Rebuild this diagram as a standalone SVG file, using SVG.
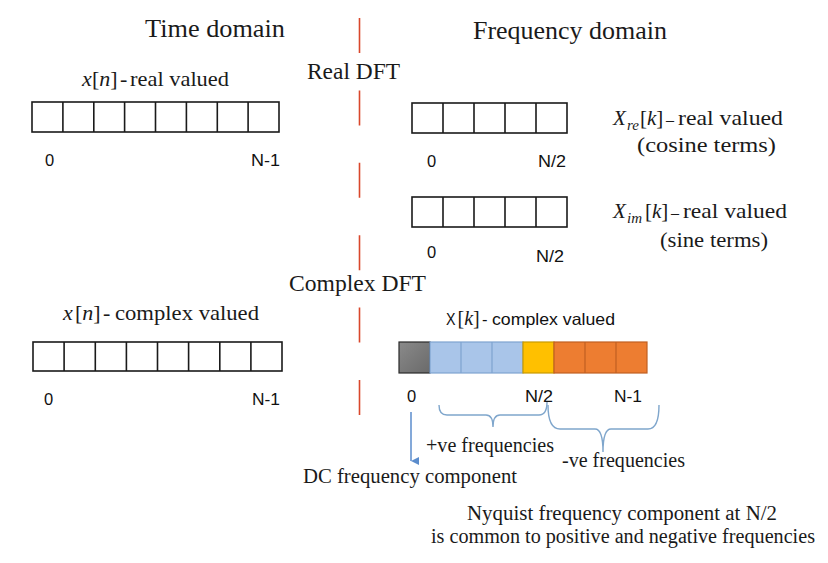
<svg xmlns="http://www.w3.org/2000/svg" width="828" height="563" viewBox="0 0 828 563">
<defs>
<style>
.ser{font-family:"Liberation Serif","Times New Roman",serif;fill:#1a1a1a}
.it{font-style:italic}
.san{font-family:"Liberation Sans",Arial,sans-serif;fill:#111;font-size:16.5px}
.box{fill:#fff;stroke:#1a1a1a;stroke-width:1.6}
.div{stroke:#1a1a1a;stroke-width:1.6;fill:none}
.brace{fill:none;stroke:#7fa6cc;stroke-width:1.4}
</style>
<linearGradient id="gray" x1="0" y1="0" x2="1" y2="1">
<stop offset="0" stop-color="#8a8a8a"/>
<stop offset="1" stop-color="#6a6a6a"/>
</linearGradient>
<marker id="ah" markerWidth="10" markerHeight="10" refX="5" refY="8" orient="auto" markerUnits="userSpaceOnUse" viewBox="0 0 10 10">
<path d="M1,0 L5,8 L9,0 Z" fill="#5b8ccc"/>
</marker>
</defs>
<rect width="828" height="563" fill="#fff"/>

<g id="headers">
<text class="ser" x="145" y="37" font-size="26" textLength="140" lengthAdjust="spacingAndGlyphs">Time domain</text>
<text class="ser" x="473" y="39" font-size="26" textLength="194" lengthAdjust="spacingAndGlyphs">Frequency domain</text>
<text class="ser" x="307" y="79" font-size="23" textLength="93" lengthAdjust="spacingAndGlyphs">Real DFT</text>
<text class="ser" x="289" y="291" font-size="23" textLength="137" lengthAdjust="spacingAndGlyphs">Complex DFT</text>
</g>

<g id="connectors">
<line x1="359.5" y1="18" x2="359.5" y2="416" stroke="#d9472b" stroke-width="1.6" stroke-dasharray="35 37.4"/>
<path class="brace" d="M439,405 Q439,415 447,415 L486,415 Q493,415 493,427 Q493,415 500,415 L539,415 Q547,415 547,402"/>
<path class="brace" d="M548,405 Q548,429 560,429 L595,429 Q603,429 603,452 Q603,429 611,429 L648,429 Q659,429 659,405"/>
<line x1="411" y1="412" x2="411" y2="461" stroke="#5b8ccc" stroke-width="1.5" marker-end="url(#ah)"/>
</g>

<g id="time-real">
<text class="ser it" x="82" y="86" font-size="22">x</text>
<text class="ser" x="92" y="86" font-size="22">[<tspan class="it">n</tspan>]</text>
<text class="ser" x="120" y="86" font-size="22">-</text>
<text class="ser" x="130" y="86" font-size="22" textLength="99" lengthAdjust="spacingAndGlyphs">real valued</text>
<rect class="box" x="32" y="102" width="247" height="30"/>
<path class="div" d="M62.9,102V132M93.8,102V132M124.6,102V132M155.5,102V132M186.4,102V132M217.3,102V132M248.1,102V132"/>
<text class="san" x="45" y="166">0</text>
<text class="san" x="251" y="166" textLength="29" lengthAdjust="spacingAndGlyphs">N-1</text>
</g>

<g id="freq-re">
<rect class="box" x="412" y="103" width="155" height="30"/>
<path class="div" d="M443,103V133M474,103V133M505,103V133M536,103V133"/>
<text class="san" x="427" y="167">0</text>
<text class="san" x="538" y="167" textLength="28" lengthAdjust="spacingAndGlyphs">N/2</text>
<text class="ser it" x="613" y="125" font-size="21">X</text>
<text class="ser it" x="627" y="130" font-size="15">re</text>
<text class="ser" x="640" y="125" font-size="21">[<tspan class="it">k</tspan>]</text>
<text class="ser" x="666" y="125" font-size="16">–</text>
<text class="ser" x="678" y="125" font-size="22" textLength="105" lengthAdjust="spacingAndGlyphs">real valued</text>
<text class="ser" x="637" y="152" font-size="22" textLength="139" lengthAdjust="spacingAndGlyphs">(cosine terms)</text>
</g>

<g id="freq-im">
<rect class="box" x="412" y="197" width="155" height="30"/>
<path class="div" d="M443,197V227M474,197V227M505,197V227M536,197V227"/>
<text class="san" x="427" y="258">0</text>
<text class="san" x="536" y="262" textLength="28" lengthAdjust="spacingAndGlyphs">N/2</text>
<text class="ser it" x="613" y="218" font-size="21">X</text>
<text class="ser it" x="627" y="223" font-size="15">im</text>
<text class="ser" x="645" y="218" font-size="21">[<tspan class="it">k</tspan>]</text>
<text class="ser" x="671" y="218" font-size="16">–</text>
<text class="ser" x="683" y="218" font-size="22" textLength="104" lengthAdjust="spacingAndGlyphs">real valued</text>
<text class="ser" x="660" y="247" font-size="22" textLength="108" lengthAdjust="spacingAndGlyphs">(sine terms)</text>
</g>

<g id="time-complex">
<text class="ser it" x="63" y="320" font-size="22">x</text>
<text class="ser" x="75" y="320" font-size="22">[<tspan class="it">n</tspan>]</text>
<text class="ser" x="103" y="320" font-size="22">-</text>
<text class="ser" x="115" y="320" font-size="22" textLength="144" lengthAdjust="spacingAndGlyphs">complex valued</text>
<rect class="box" x="33" y="342" width="249" height="29"/>
<path class="div" d="M64.1,342V371M95.3,342V371M126.4,342V371M157.5,342V371M188.6,342V371M219.8,342V371M250.9,342V371"/>
<text class="san" x="44" y="405">0</text>
<text class="san" x="252" y="405" textLength="28" lengthAdjust="spacingAndGlyphs">N-1</text>
</g>

<g id="freq-complex">
<text class="san" x="446" y="325" font-size="17" textLength="9.5" lengthAdjust="spacingAndGlyphs">X</text>
<text class="ser" x="457.5" y="325" font-size="20">[<tspan class="it">k</tspan>]</text>
<text class="san" x="482" y="325" font-size="17">-</text>
<text class="san" x="492" y="325" font-size="17" textLength="123" lengthAdjust="spacingAndGlyphs">complex valued</text>
<rect x="399" y="342" width="31" height="31" fill="url(#gray)" stroke="#2a2a2a" stroke-width="1.2"/>
<rect x="430" y="342" width="93" height="31" fill="#a9c5e9" stroke="#7fa3d0" stroke-width="1.2"/>
<path d="M461,342V373M492,342V373" stroke="#7fa3d0" stroke-width="1.2"/>
<rect x="523" y="342" width="31" height="31" fill="#ffc000" stroke="#c99a00" stroke-width="1.2"/>
<rect x="554" y="342" width="93" height="31" fill="#ed7d31" stroke="#c05f22" stroke-width="1.2"/>
<path d="M585,342V373M616,342V373" stroke="#c05f22" stroke-width="1.2"/>
<text class="san" x="407" y="402">0</text>
<text class="san" x="525" y="402" textLength="28" lengthAdjust="spacingAndGlyphs">N/2</text>
<text class="san" x="614" y="402" textLength="28" lengthAdjust="spacingAndGlyphs">N-1</text>
</g>

<g id="labels">
<text class="ser" x="426" y="452" font-size="20" textLength="128" lengthAdjust="spacingAndGlyphs">+ve frequencies</text>
<text class="ser" x="562" y="467" font-size="20" textLength="123" lengthAdjust="spacingAndGlyphs">-ve frequencies</text>
<text class="ser" x="303" y="483" font-size="20" textLength="214" lengthAdjust="spacingAndGlyphs">DC frequency component</text>
<text class="ser" x="467" y="520" font-size="20" textLength="310" lengthAdjust="spacingAndGlyphs">Nyquist frequency component at N/2</text>
<text class="ser" x="431" y="543" font-size="20" textLength="384" lengthAdjust="spacingAndGlyphs">is common to positive and negative frequencies</text>
</g>
</svg>
